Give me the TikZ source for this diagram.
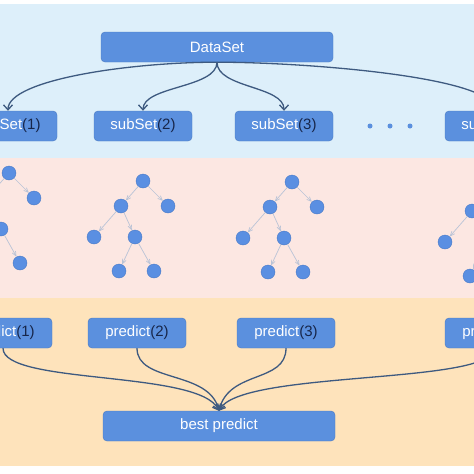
\documentclass[tikz,border=0pt]{standalone}
\usepackage{fontspec}
\setmainfont{Liberation Sans}
\usepackage{tikz}
\usetikzlibrary{arrows,arrows.meta,positioning,shapes,calc}
\definecolor{boxblue}{HTML}{5B90DE}
\definecolor{boxline}{HTML}{4A7AC2}
\definecolor{idx}{HTML}{17264A}
\definecolor{linkcol}{HTML}{3E5A80}
\definecolor{treeblue}{HTML}{5A8FE2}
\definecolor{treeline}{HTML}{4A7BC6}
\definecolor{treeedge}{HTML}{B9C3D6}
\definecolor{bandblue}{HTML}{DDEFFA}
\definecolor{bandpink}{HTML}{FCE7E2}
\definecolor{bandorange}{HTML}{FEE3BB}

\begin{document}
\begin{tikzpicture}[x=1pt,y=-1pt,>=angle 45,
	main node/.style={rectangle,rounded corners=4pt,fill=boxblue,draw=boxline,text=white,
		font=\fontsize{15}{18}\selectfont,minimum width=98pt,minimum height=30pt,inner sep=0pt},
	wide node/.style={main node,minimum width=232pt},
	tree node/.style={circle,fill=treeblue,draw=treeline,minimum size=14pt,inner sep=0pt},
	dot node/.style={circle,fill=boxblue,minimum size=5pt,inner sep=0pt},
	link/.style={color=linkcol,line width=1.3pt,-{Straight Barb[length=5pt,width=9pt]}}]

    \useasboundingbox (0,0) rectangle (474,474);
    \clip (0,0) rectangle (474,474);
    \fill[white] (0,0) rectangle (474,474);
    \fill[bandblue] (0,4) rectangle (474,158);
    \fill[bandpink] (0,158) rectangle (474,298);
    \fill[bandorange] (0,298) rectangle (474,466);

    \node[wide node] (data) at (217,47) {DataSet};
    \node[main node] (sub1) at (8,126) {subSet\textcolor{idx}{(1)}};
    \node[main node] (sub2) at (143,126) {subSet\textcolor{idx}{(2)}};
    \node[main node] (sub3) at (284,126) {subSet\textcolor{idx}{(3)}};
    \node[main node] (subn) at (494,126) {subSet\textcolor{idx}{(n)}};
    \foreach \x/\n in {370/1,390/2,410/3}
        \node[dot node] (dot\n) at (\x,126) {};

    % one tree per subset
    \foreach \x/\y/\n in {9/173/1,143/181/2,292/182/3,494/186/n}{
        \node[tree node] (r\n) at (\x,\y) {};
        \node[tree node] (a\n) at (\x-22,\y+25) {};
        \node[tree node] (b\n) at (\x+25,\y+25) {};
        \node[tree node] (c\n) at (\x-49,\y+56) {};
        \node[tree node] (d\n) at (\x-8,\y+56) {};
        \node[tree node] (e\n) at (\x-24,\y+90) {};
        \node[tree node] (f\n) at (\x+11,\y+90) {};
        \path[color=treeedge,line width=.7pt,style={->}]
        (r\n) edge (a\n)
        (r\n) edge (b\n)
        (a\n) edge (c\n)
        (a\n) edge (d\n)
        (d\n) edge (e\n)
        (d\n) edge (f\n);
    }

    \node[main node] (pre1) at (3,333) {predict\textcolor{idx}{(1)}};
    \node[main node] (pre2) at (137,333) {predict\textcolor{idx}{(2)}};
    \node[main node] (pre3) at (286,333) {predict\textcolor{idx}{(3)}};
    \node[main node] (pren) at (494,333) {predict\textcolor{idx}{(n)}};
    \node[wide node] (best) at (219,426) {best predict};

    \draw[link] (data.south) .. controls +(-87,0) and +(0,-31) .. (sub1.north);
    \draw[link] (data.south) .. controls +(0,26) and +(0,-25) .. (sub2.north);
    \draw[link] (data.south) .. controls +(0,26) and +(0,-25) .. (sub3.north);
    \draw[link] (data.south) .. controls +(88,0) and +(0,-34) .. (subn.north);

    \draw[link] (pre1.south) .. controls +(0,37) and +(-19,-41) .. (best.north);
    \draw[link] (pre2.south) .. controls +(0,35) and +(-10,-41) .. (best.north);
    \draw[link] (pre3.south) .. controls +(0,35) and +(10,-41) .. (best.north);
    \draw[link] (pren.south) .. controls +(0,37) and +(21,-41) .. (best.north);

\end{tikzpicture}
\end{document}
